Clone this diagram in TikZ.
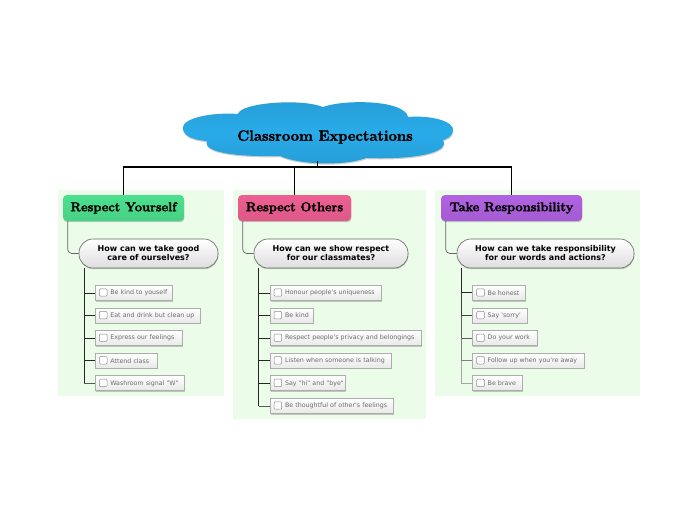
\documentclass[tikz,border=0pt]{standalone}
\usepackage{fontspec}
\usepackage{xcolor}
\usetikzlibrary{positioning}
\usetikzlibrary{shadows}
\newfontfamily\dejavu{DejaVu Sans}
\newfontfamily\heavyserif[BoldFeatures={FakeBold=2.2}]{Latin Modern Roman}
\definecolor{panelgreen}{HTML}{EBFCE8}
\definecolor{cloudblue}{HTML}{29ABE9}
\definecolor{headgreen}{HTML}{4CE08E}
\definecolor{headpink}{HTML}{EE5F92}
\definecolor{headpurple}{HTML}{B162E2}

\begin{document}
\begin{tikzpicture}[
    x=1pt, y=-1pt,
    panel/.style={fill=panelgreen, draw=none},
    softshadow/.style={drop shadow={shadow xshift=0.4pt, shadow yshift=-1.2pt, opacity=0.2, fill=black}},
    title/.style={font=\heavyserif\bfseries\fontsize{14.8}{17}\selectfont, inner sep=1pt},
    head/.style={softshadow, rounded corners=4pt, minimum width=#1, minimum height=26pt, inner sep=0pt,
        font=\heavyserif\bfseries\fontsize{12.8}{15}\selectfont},
    question/.style={softshadow, draw=black!60, line width=0.6pt, top color=white, bottom color=black!13,
        rounded corners=14pt, minimum width=#1, minimum height=29pt, inner sep=0pt, align=center,
        font=\dejavu\bfseries\fontsize{8}{9}\selectfont},
    task/.style={softshadow, draw=black!32, line width=0.8pt, top color=white, bottom color=black!9,
        minimum height=15pt, inner ysep=0pt, inner xsep=0pt, text width=#1, align=left,
        text=black!58, font=\dejavu\fontsize{6.3}{7}\selectfont,
        execute at begin node={\hspace*{15pt}},
        path picture={\draw[chkbox] ([xshift=4pt,yshift=-3.3pt]path picture bounding box.west) rectangle ++(7.6pt,7.4pt);}},
    chkbox/.style={draw=black!45, line width=0.5pt, fill=white, rounded corners=1pt},
    next/.style={below=6.8pt of #1.south west, anchor=north west},
    trunk/.style={draw=black, line width=1.2pt},
    link/.style={draw=black!60, line width=0.7pt, rounded corners=4pt},
    stem/.style={draw=black!85, line width=0.8pt}
]
    \useasboundingbox (0,0) rectangle (697,520);
    \fill[white] (0,0) rectangle (697,520);

    % Panels
    \fill[panel] (58,190) rectangle (224,396);
    \fill[panel] (233,190) rectangle (426,419);
    \fill[panel] (435,190) rectangle (640,396);

    % Cloud
    \path[softshadow, top color=cloudblue!92!black, bottom color=cloudblue!92!black, middle color=cloudblue]
        (183,127) .. controls (184,118) and (212,112) .. (238,114)
        .. controls (240,103) and (300,98) .. (323,107)
        .. controls (345,99) and (405,100) .. (408,117)
        .. controls (430,115) and (455,121) .. (453,131)
        .. controls (452,137) and (446,139) .. (443,140)
        .. controls (450,150) and (425,160) .. (366,158)
        .. controls (345,166) and (300,165) .. (280,156)
        .. controls (240,157) and (202,153) .. (207,141)
        .. controls (190,140) and (182,134) .. (183,127) -- cycle;
    \node[title] (classroom) at (325,137) {Classroom Expectations};
    \coordinate (cloudfoot) at (317.5,161);

    % Headers
    \node[head=121pt, top color=headgreen, bottom color=headgreen!93!black] (yourself) at (123.5,208) {Respect Yourself};
    \node[head=113pt, top color=headpink, bottom color=headpink!93!black] (others) at (294.5,208) {Respect Others};
    \node[head=141pt, top color=headpurple, bottom color=headpurple!93!black] (responsibility) at (511.5,208) {Take Responsibility};

    % Questions
    \node[question=139pt] (care) at (148.5,253.5) {How can we take good\\care of ourselves?};
    \node[question=154pt] (show) at (331,253.5) {How can we show respect\\for our classmates?};
    \node[question=177pt] (words) at (545.5,253.5) {How can we take responsibility\\for our words and actions?};

    % Tasks under the first question
    \node[task=77pt, anchor=north west] (kind) at (95,285) {Be kind to youself};
    \node[task=104.6pt, next=kind] (eat) {Eat and drink but clean up};
    \node[task=86.7pt, next=eat] (express) {Express our feelings};
    \node[task=61.7pt, next=express] (attend) {Attend class};
    \node[task=88.7pt, next=attend] (washroom) {Washroom signal "W"};

    % Tasks under the second question
    \node[task=111pt, anchor=north west] (honour) at (269.7,285) {Honour people's uniqueness};
    \node[task=43.6pt, next=honour] (bekind) {Be kind};
    \node[task=151pt, next=bekind] (privacy) {Respect people's privacy and belongings};
    \node[task=121.6pt, next=privacy] (listen) {Listen when someone is talking};
    \node[task=75pt, next=listen] (sayhi) {Say "hi" and "bye"};
    \node[task=123.3pt, next=sayhi] (thoughtful) {Be thoughtful of other's feelings};

    % Tasks under the third question
    \node[task=52.4pt, anchor=north west] (honest) at (472.3,285) {Be honest};
    \node[task=54.4pt, next=honest] (sorry) {Say 'sorry'};
    \node[task=64.4pt, next=sorry] (work) {Do your work};
    \node[task=111.4pt, next=work] (follow) {Follow up when you're away};
    \node[task=49.7pt, next=follow] (brave) {Be brave};

    % Trunk from the cloud
    \draw[trunk] (cloudfoot) -- (317.5,167) -| (yourself.north);
    \draw[trunk] (317.5,167) -| (others.north);
    \draw[trunk] (317.5,167) -| (responsibility.north);

    % Header to question
    \draw[link] ([xshift=5pt]yourself.south west) |- (care.west);
    \draw[link] ([xshift=5pt]others.south west) |- (show.west);
    \draw[link] ([xshift=5pt]responsibility.south west) |- (words.west);

    % Spines and branches
    \coordinate (carespine) at ([xshift=5.3pt]care.south west);
    \draw[stem] (carespine) -- (carespine |- washroom.west);
    \draw[stem] (carespine |- kind.west) -- (kind.west);
    \draw[stem] (carespine |- eat.west) -- (eat.west);
    \draw[stem] (carespine |- express.west) -- (express.west);
    \draw[stem] (carespine |- attend.west) -- (attend.west);
    \draw[stem, black!65] (carespine |- washroom.west) -- (washroom.west);

    \coordinate (showspine) at ([xshift=5pt]show.south west);
    \draw[stem] (showspine) -- (showspine |- thoughtful.west);
    \draw[stem] (showspine |- honour.west) -- (honour.west);
    \draw[stem] (showspine |- bekind.west) -- (bekind.west);
    \draw[stem] (showspine |- privacy.west) -- (privacy.west);
    \draw[stem] (showspine |- listen.west) -- (listen.west);
    \draw[stem] (showspine |- sayhi.west) -- (sayhi.west);
    \draw[stem, black!65] (showspine |- thoughtful.west) -- (thoughtful.west);

    \coordinate (wordspine) at ([xshift=4.7pt]words.south west);
    \draw[stem, line width=1.1pt] (wordspine) -- (wordspine |- honest.west) -- (honest.west);
    \draw[stem, black!75] (wordspine |- honest.west) -- (wordspine |- sorry.west) -- (sorry.west);
    \draw[stem, black!62] (wordspine |- sorry.west) -- (wordspine |- work.west) -- (work.west);
    \draw[stem, black!50] (wordspine |- work.west) -- (wordspine |- follow.west) -- (follow.west);
    \draw[stem, black!35] (wordspine |- follow.west) -- (wordspine |- brave.west) -- (brave.west);
\end{tikzpicture}
\end{document}
